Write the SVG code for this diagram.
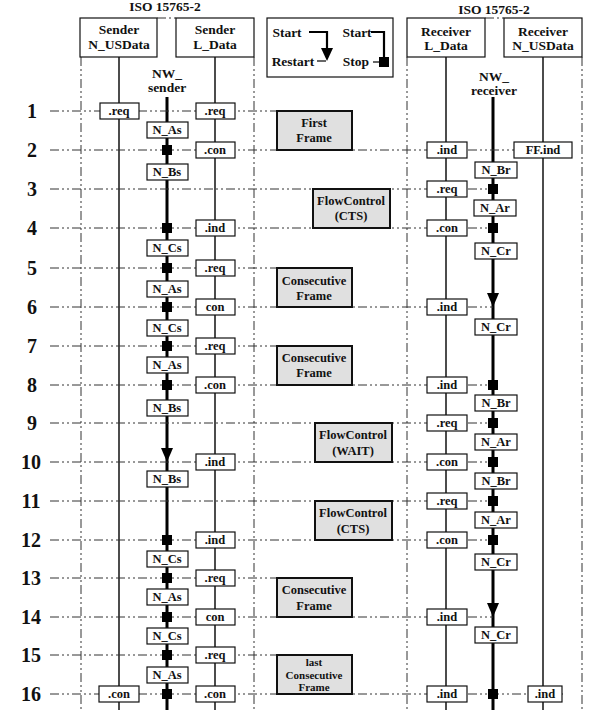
<svg xmlns="http://www.w3.org/2000/svg" width="601" height="710" viewBox="0 0 601 710">
<style>
text{font-family:"Liberation Serif","DejaVu Serif",serif;font-weight:bold;fill:#111;text-anchor:middle}
.t{font-size:13.5px}
.s{font-size:12.5px}
.x{font-size:11px}
.n{font-size:20px}
.dd{stroke:#333;stroke-width:1;stroke-dasharray:9,3,2,3,2,3;fill:none}
.th{stroke:#111;stroke-width:1.5}
.nw{stroke:#000;stroke-width:3}
.hb{fill:#fff;stroke:#111;stroke-width:1.2}
.lb{fill:#fff;stroke:#111;stroke-width:1.2}
.gb{fill:#e0e0e0;stroke:#111;stroke-width:2}
.sq{fill:#000}
</style>
<defs>
<rect id="sq" class="sq" x="-5" y="-5" width="10" height="10"/>
<polygon id="ar" fill="#000" points="-6,-14 6,-14 0,0"/>
</defs>
<rect width="601" height="710" fill="#fff"/>
<g id="connectors">
<line class="dd" x1="81" y1="57" x2="81" y2="710"/>
<line class="dd" x1="254" y1="57" x2="254" y2="710"/>
<line class="dd" x1="407" y1="57" x2="407" y2="710"/>
<line class="dd" x1="582" y1="57" x2="582" y2="710"/>
<line class="dd" x1="157" y1="18" x2="176" y2="18"/>
<line class="dd" x1="485" y1="18" x2="504" y2="18"/>
<line class="th" x1="119" y1="57" x2="119" y2="710"/>
<line class="th" x1="215" y1="57" x2="215" y2="710"/>
<line class="th" x1="446" y1="57" x2="446" y2="710"/>
<line class="th" x1="543" y1="57" x2="543" y2="710"/>
<line class="nw" x1="167" y1="97" x2="167" y2="710"/>
<line class="nw" x1="493" y1="97" x2="493" y2="710"/>
<line class="dd" x1="50" y1="111" x2="277" y2="111"/>
<line class="dd" x1="50" y1="150" x2="572" y2="150"/>
<line class="dd" x1="50" y1="189" x2="493" y2="189"/>
<line class="dd" x1="50" y1="228" x2="493" y2="228"/>
<line class="dd" x1="50" y1="268" x2="277" y2="268"/>
<line class="dd" x1="50" y1="307" x2="493" y2="307"/>
<line class="dd" x1="50" y1="346" x2="277" y2="346"/>
<line class="dd" x1="50" y1="385" x2="493" y2="385"/>
<line class="dd" x1="50" y1="423" x2="493" y2="423"/>
<line class="dd" x1="50" y1="462" x2="493" y2="462"/>
<line class="dd" x1="50" y1="501" x2="493" y2="501"/>
<line class="dd" x1="50" y1="540" x2="493" y2="540"/>
<line class="dd" x1="50" y1="578" x2="277" y2="578"/>
<line class="dd" x1="50" y1="617" x2="493" y2="617"/>
<line class="dd" x1="50" y1="655" x2="277" y2="655"/>
<line class="dd" x1="50" y1="694" x2="563" y2="694"/>
<use href="#sq" x="167" y="150"/><use href="#sq" x="167" y="228"/><use href="#sq" x="167" y="268"/>
<use href="#sq" x="167" y="307"/><use href="#sq" x="167" y="346"/><use href="#sq" x="167" y="385"/>
<use href="#ar" x="167" y="462"/>
<use href="#sq" x="167" y="540"/><use href="#sq" x="167" y="578"/><use href="#sq" x="167" y="617"/>
<use href="#sq" x="167" y="655"/><use href="#sq" x="167" y="694"/>
<use href="#sq" x="493" y="189"/><use href="#sq" x="493" y="228"/><use href="#ar" x="493" y="307"/>
<use href="#sq" x="493" y="385"/><use href="#sq" x="493" y="423"/><use href="#sq" x="493" y="462"/>
<use href="#sq" x="493" y="501"/><use href="#sq" x="493" y="540"/><use href="#ar" x="493" y="617"/>
<use href="#sq" x="493" y="694"/>
</g>
<g id="titles">
<text class="t" x="165" y="11">ISO 15765-2</text>
<text class="t" x="494" y="14">ISO 15765-2</text>
<text class="t" x="167" y="78">NW_</text><text class="t" x="167" y="92">sender</text>
<text class="t" x="494" y="81">NW_</text><text class="t" x="494" y="95">receiver</text>
</g>
<g id="row-numbers">
<text class="n" x="32" y="118">1</text><text class="n" x="32" y="157">2</text><text class="n" x="32" y="196">3</text>
<text class="n" x="32" y="235">4</text><text class="n" x="32" y="275">5</text><text class="n" x="32" y="314">6</text>
<text class="n" x="32" y="353">7</text><text class="n" x="32" y="392">8</text><text class="n" x="32" y="430">9</text>
<text class="n" x="31" y="469">10</text><text class="n" x="31" y="508">11</text><text class="n" x="31" y="547">12</text>
<text class="n" x="31" y="585">13</text><text class="n" x="31" y="624">14</text><text class="n" x="31" y="662">15</text>
<text class="n" x="31" y="701">16</text>
</g>
<g id="hdr-sender-nusdata"><rect class="hb" x="80" y="18" width="77" height="39"/><text class="t" x="119" y="34">Sender</text><text class="t" x="119" y="49">N_USData</text></g>
<g id="hdr-sender-ldata"><rect class="hb" x="176" y="18" width="78" height="39"/><text class="t" x="215" y="34">Sender</text><text class="t" x="215" y="49">L_Data</text></g>
<g id="hdr-receiver-ldata"><rect class="hb" x="407" y="18" width="78" height="39"/><text class="t" x="446" y="36">Receiver</text><text class="t" x="446" y="50">L_Data</text></g>
<g id="hdr-receiver-nusdata"><rect class="hb" x="504" y="18" width="78" height="39"/><text class="t" x="543" y="36">Receiver</text><text class="t" x="543" y="50">N_USData</text></g>
<g id="legend">
<rect class="hb" x="267" y="18" width="126" height="59"/>
<text class="t" x="287" y="37">Start</text><text class="t" x="293" y="66">Restart</text>
<polyline points="309,32 327,32 327,50" fill="none" stroke="#000" stroke-width="2.2"/>
<polygon points="321,48 333,48 327,61" fill="#000"/>
<line x1="317" y1="61" x2="326" y2="61" stroke="#000" stroke-width="1.2"/>
<text class="t" x="357" y="37">Start</text><text class="t" x="356" y="66">Stop</text>
<polyline points="371,32 384,32 384,62" fill="none" stroke="#000" stroke-width="2.2"/>
<rect x="379" y="57" width="10" height="10" fill="#000"/>
<line x1="373" y1="62" x2="380" y2="62" stroke="#000" stroke-width="1.2"/>
</g>
<g id="frames">
<g id="ff"><rect class="gb" x="277" y="111" width="75" height="39"/><text class="s" x="314" y="127">First</text><text class="s" x="314" y="142">Frame</text></g>
<g id="fc1"><rect class="gb" x="313" y="189" width="77" height="39"/><text class="s" x="351" y="205">FlowControl</text><text class="s" x="351" y="220">(CTS)</text></g>
<g id="cf1"><rect class="gb" x="277" y="268" width="75" height="39"/><text class="s" x="314" y="285">Consecutive</text><text class="s" x="314" y="300">Frame</text></g>
<g id="cf2"><rect class="gb" x="277" y="346" width="75" height="39"/><text class="s" x="314" y="362">Consecutive</text><text class="s" x="314" y="377">Frame</text></g>
<g id="fc2"><rect class="gb" x="315" y="423" width="77" height="39"/><text class="s" x="353" y="439">FlowControl</text><text class="s" x="353" y="455">(WAIT)</text></g>
<g id="fc3"><rect class="gb" x="315" y="501" width="77" height="39"/><text class="s" x="353" y="517">FlowControl</text><text class="s" x="353" y="533">(CTS)</text></g>
<g id="cf3"><rect class="gb" x="277" y="578" width="75" height="39"/><text class="s" x="314" y="594">Consecutive</text><text class="s" x="314" y="610">Frame</text></g>
<g id="lcf"><rect class="gb" x="277" y="655" width="75" height="39"/><text class="x" x="314" y="666">last</text><text class="x" x="314" y="678.5">Consecutive</text><text class="x" x="314" y="691">Frame</text></g>
</g>
<g id="sender-prims">
<g><rect class="lb" x="100" y="103" width="39" height="16"/><text class="s" x="119" y="115">.req</text></g>
<g><rect class="lb" x="99" y="686" width="40" height="16"/><text class="s" x="119" y="698">.con</text></g>
<g><rect class="lb" x="196" y="103" width="39" height="16"/><text class="s" x="215" y="115">.req</text></g>
<g><rect class="lb" x="196" y="142" width="39" height="16"/><text class="s" x="215" y="154">.con</text></g>
<g><rect class="lb" x="196" y="220" width="39" height="16"/><text class="s" x="215" y="232">.ind</text></g>
<g><rect class="lb" x="196" y="260" width="39" height="16"/><text class="s" x="215" y="272">.req</text></g>
<g><rect class="lb" x="196" y="299" width="39" height="16"/><text class="s" x="215" y="311">con</text></g>
<g><rect class="lb" x="196" y="338" width="39" height="16"/><text class="s" x="215" y="350">.req</text></g>
<g><rect class="lb" x="196" y="377" width="39" height="16"/><text class="s" x="215" y="389">.con</text></g>
<g><rect class="lb" x="196" y="454" width="39" height="16"/><text class="s" x="215" y="466">.ind</text></g>
<g><rect class="lb" x="196" y="532" width="39" height="16"/><text class="s" x="215" y="544">.ind</text></g>
<g><rect class="lb" x="196" y="570" width="39" height="16"/><text class="s" x="215" y="582">.req</text></g>
<g><rect class="lb" x="196" y="609" width="39" height="16"/><text class="s" x="215" y="621">con</text></g>
<g><rect class="lb" x="196" y="647" width="39" height="16"/><text class="s" x="215" y="659">.req</text></g>
<g><rect class="lb" x="196" y="686" width="39" height="16"/><text class="s" x="215" y="698">.con</text></g>
</g>
<g id="sender-timers">
<g><rect class="lb" x="147" y="122" width="41" height="16"/><text class="s" x="167" y="134">N_As</text></g>
<g><rect class="lb" x="147" y="164" width="41" height="16"/><text class="s" x="167" y="176">N_Bs</text></g>
<g><rect class="lb" x="147" y="240" width="41" height="16"/><text class="s" x="167" y="252">N_Cs</text></g>
<g><rect class="lb" x="147" y="281" width="41" height="16"/><text class="s" x="167" y="293">N_As</text></g>
<g><rect class="lb" x="147" y="320" width="41" height="16"/><text class="s" x="167" y="332">N_Cs</text></g>
<g><rect class="lb" x="147" y="357" width="41" height="16"/><text class="s" x="167" y="369">N_As</text></g>
<g><rect class="lb" x="147" y="400" width="41" height="16"/><text class="s" x="167" y="412">N_Bs</text></g>
<g><rect class="lb" x="147" y="471" width="41" height="16"/><text class="s" x="167" y="483">N_Bs</text></g>
<g><rect class="lb" x="147" y="551" width="41" height="16"/><text class="s" x="167" y="563">N_Cs</text></g>
<g><rect class="lb" x="147" y="589" width="41" height="16"/><text class="s" x="167" y="601">N_As</text></g>
<g><rect class="lb" x="147" y="628" width="41" height="16"/><text class="s" x="167" y="640">N_Cs</text></g>
<g><rect class="lb" x="147" y="667" width="41" height="16"/><text class="s" x="167" y="679">N_As</text></g>
</g>
<g id="receiver-prims">
<g><rect class="lb" x="427" y="142" width="40" height="16"/><text class="s" x="447" y="154">.ind</text></g>
<g><rect class="lb" x="514" y="142" width="58" height="16"/><text class="s" x="543" y="154">FF.ind</text></g>
<g><rect class="lb" x="427" y="181" width="40" height="16"/><text class="s" x="447" y="193">.req</text></g>
<g><rect class="lb" x="427" y="220" width="40" height="16"/><text class="s" x="447" y="232">.con</text></g>
<g><rect class="lb" x="427" y="299" width="40" height="16"/><text class="s" x="447" y="311">.ind</text></g>
<g><rect class="lb" x="427" y="377" width="40" height="16"/><text class="s" x="447" y="389">.ind</text></g>
<g><rect class="lb" x="427" y="415" width="40" height="16"/><text class="s" x="447" y="427">.req</text></g>
<g><rect class="lb" x="427" y="454" width="40" height="16"/><text class="s" x="447" y="466">.con</text></g>
<g><rect class="lb" x="427" y="493" width="40" height="16"/><text class="s" x="447" y="505">.req</text></g>
<g><rect class="lb" x="427" y="532" width="40" height="16"/><text class="s" x="447" y="544">.con</text></g>
<g><rect class="lb" x="427" y="609" width="40" height="16"/><text class="s" x="447" y="621">.ind</text></g>
<g><rect class="lb" x="427" y="686" width="40" height="16"/><text class="s" x="447" y="698">.ind</text></g>
<g><rect class="lb" x="528" y="686" width="34" height="16"/><text class="s" x="545" y="698">.ind</text></g>
</g>
<g id="receiver-timers">
<g><rect class="lb" x="475" y="162" width="42" height="16"/><text class="s" x="496" y="174">N_Br</text></g>
<g><rect class="lb" x="474" y="200" width="42" height="16"/><text class="s" x="495" y="212">N_Ar</text></g>
<g><rect class="lb" x="475" y="243" width="42" height="16"/><text class="s" x="496" y="255">N_Cr</text></g>
<g><rect class="lb" x="475" y="319" width="42" height="16"/><text class="s" x="496" y="331">N_Cr</text></g>
<g><rect class="lb" x="475" y="395" width="42" height="16"/><text class="s" x="496" y="407">N_Br</text></g>
<g><rect class="lb" x="475" y="434" width="42" height="16"/><text class="s" x="496" y="446">N_Ar</text></g>
<g><rect class="lb" x="475" y="473" width="42" height="16"/><text class="s" x="496" y="485">N_Br</text></g>
<g><rect class="lb" x="475" y="512" width="42" height="16"/><text class="s" x="496" y="524">N_Ar</text></g>
<g><rect class="lb" x="475" y="554" width="42" height="16"/><text class="s" x="496" y="566">N_Cr</text></g>
<g><rect class="lb" x="475" y="627" width="42" height="16"/><text class="s" x="496" y="639">N_Cr</text></g>
</g>
</svg>
